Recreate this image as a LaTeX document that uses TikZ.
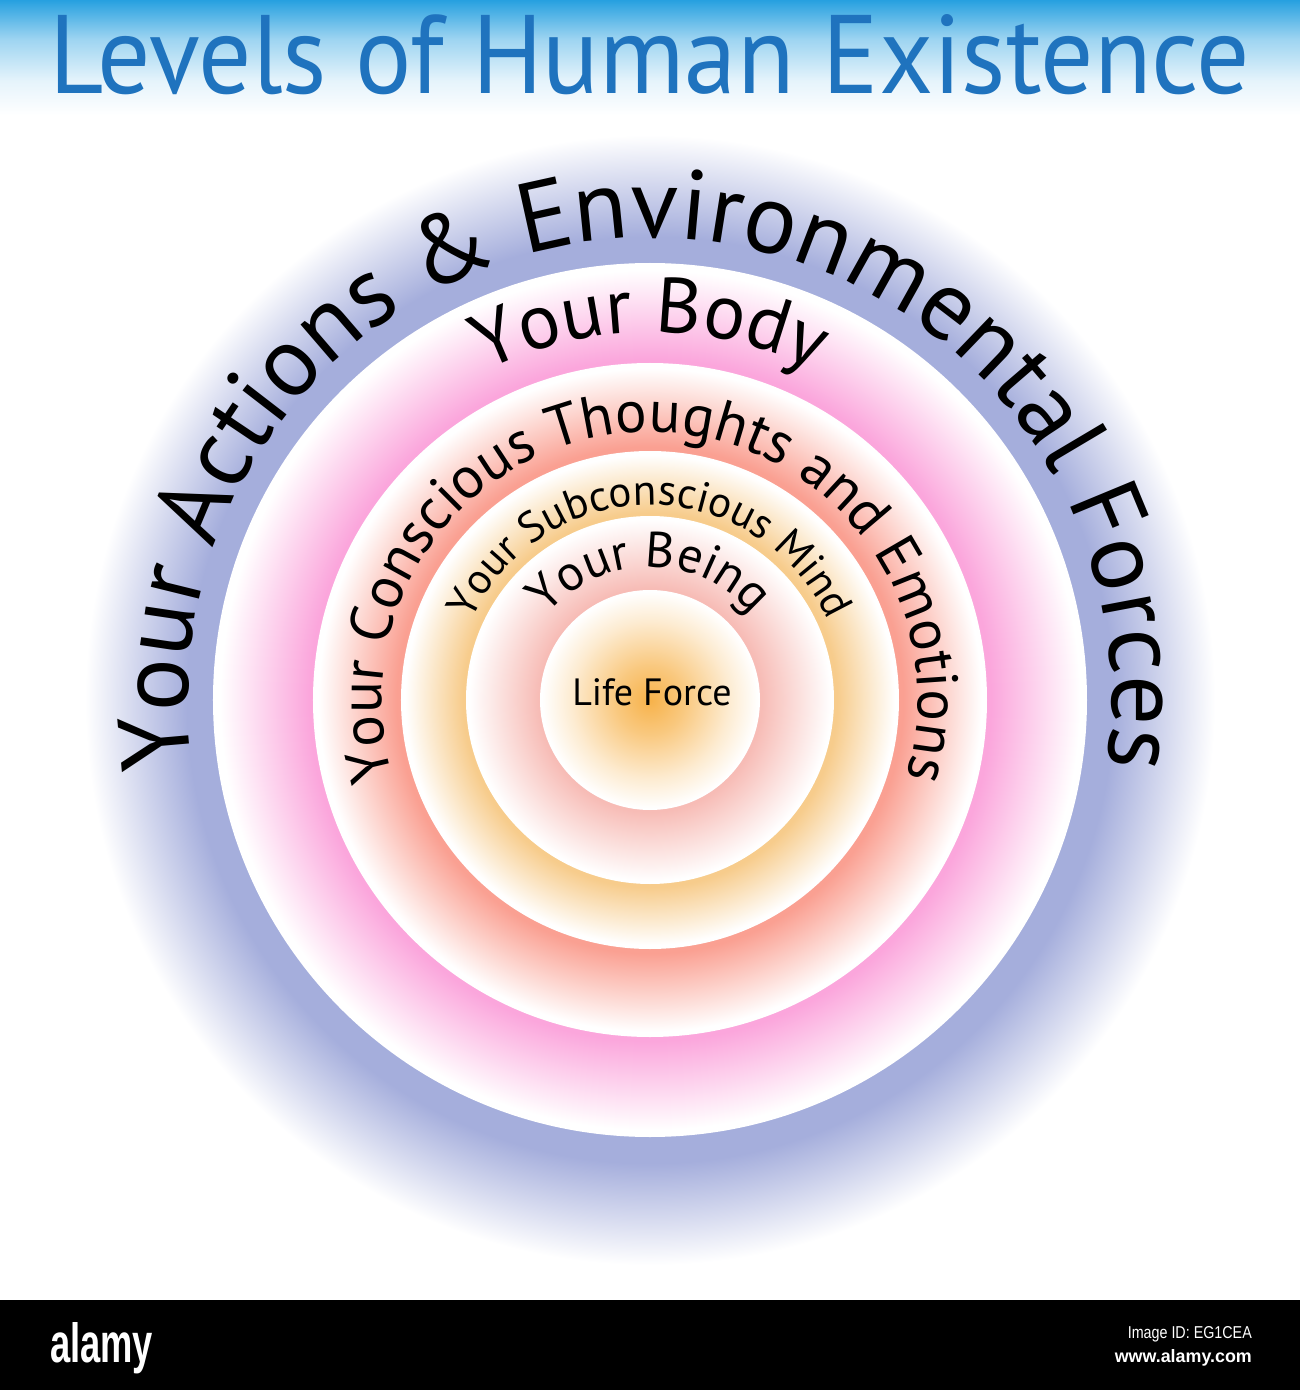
\documentclass[tikz,border=0pt]{standalone}
\usepackage{fontspec}
\usepackage{graphicx}
\usepackage{xcolor}
\usepackage{tikz}
\usetikzlibrary{decorations.text}
\setmainfont{PT Sans}
\newfontfamily\logofont{Liberation Sans}

\definecolor{titleblue}{RGB}{31,115,190}
\definecolor{barblue}{RGB}{38,160,224}
\definecolor{envblue}{RGB}{165,174,220}
\definecolor{bodypink}{RGB}{251,166,220}
\definecolor{mindsalmon}{RGB}{250,160,146}
\definecolor{subyellow}{RGB}{247,204,140}
\definecolor{beingpink}{RGB}{247,188,182}
\definecolor{lifeorange}{RGB}{247,178,74}

% radius of a filled circle = 25bp of the shading
\pgfdeclareradialshading{envshade}{\pgfpoint{0bp}{0bp}}{color(0bp)=(envblue); color(20.5bp)=(envblue); color(23bp)=(envblue!45!white); color(25bp)=(white); color(50bp)=(white)}
\pgfdeclareradialshading{bodyshade}{\pgfpoint{0bp}{0bp}}{color(0bp)=(bodypink); color(19.5bp)=(bodypink); color(24.6bp)=(white); color(50bp)=(white)}
\pgfdeclareradialshading{mindshade}{\pgfpoint{0bp}{0bp}}{color(0bp)=(mindsalmon); color(18.8bp)=(mindsalmon); color(24.6bp)=(white); color(50bp)=(white)}
\pgfdeclareradialshading{subshade}{\pgfpoint{0bp}{0bp}}{color(0bp)=(subyellow); color(18.8bp)=(subyellow); color(24.6bp)=(white); color(50bp)=(white)}
\pgfdeclareradialshading{beingshade}{\pgfpoint{0bp}{0bp}}{color(0bp)=(beingpink); color(15.2bp)=(beingpink); color(24.6bp)=(white); color(50bp)=(white)}
\pgfdeclareradialshading{lifeshade}{\pgfpoint{0bp}{0bp}}{color(0bp)=(lifeorange); color(8bp)=(lifeorange!70!white); color(18bp)=(lifeorange!25!white); color(24.6bp)=(white); color(50bp)=(white)}
\pgfdeclareverticalshading{titleshade}{100bp}{color(0bp)=(white); color(25bp)=(white); color(40bp)=(barblue!12!white); color(58bp)=(barblue!45!white); color(72bp)=(barblue!90!white); color(75bp)=(barblue); color(100bp)=(barblue)}

\begin{document}
\begin{tikzpicture}[x=1pt, y=1pt,
  ringtext/.style={decorate, decoration={text along path, text align=center, text={#1}}}]
  \useasboundingbox (-650,-690) rectangle (650,700);
  \fill[white] (-650,-690) rectangle (650,700);

  % title band
  \shade[shading=titleshade] (-650,585) rectangle (650,700);
  \node[anchor=base, inner sep=0, text=titleblue] (title) at (0,606) {\resizebox{1200pt}{79pt}{Levels of Human Existence}};

  % levels, outside to inside
  \shade[shading=envshade] (0,0) circle[radius=565];
  \shade[shading=bodyshade] (0,0) circle[radius=437];
  \shade[shading=mindshade] (0,0) circle[radius=337];
  \shade[shading=subshade] (0,0) circle[radius=249];
  \shade[shading=beingshade] (0,0) circle[radius=184];
  \shade[shading=lifeshade] (0,0) circle[radius=110];

  \path[ringtext={|\fontsize{99}{114}\selectfont|Your Actions {\&} Environmental Forces}] (250:462) arc[start angle=250, end angle=-70, radius=462];
  \path[ringtext={|\fontsize{78}{90}\selectfont|Your Body}] (250:368) arc[start angle=250, end angle=-70, radius=368];
  \path[ringtext={|\fontsize{59}{68}\selectfont|Your Conscious Thoughts and Emotions}] (250:268) arc[start angle=250, end angle=-70, radius=268];
  \path[ringtext={|\fontsize{43}{50}\selectfont|Your Subconscious Mind}] (250:195) arc[start angle=250, end angle=-70, radius=195];
  \path[ringtext={|\fontsize{50}{60}\selectfont|Your Being}] (250:133) arc[start angle=250, end angle=-70, radius=133];
  \node[anchor=base, inner sep=0, font=\fontsize{38}{44}\selectfont] (life) at (2,-5) {Life Force};

  % footer
  \fill[black] (-650,-690) rectangle (650,-600);
  \node[anchor=base west, inner sep=0, text=white] (logo) at (-600,-662) {\resizebox{103pt}{40pt}{\logofont\bfseries alamy}};
  \node[anchor=base east, inner sep=0, text=white] (imgid) at (602,-638) {\resizebox{124pt}{12pt}{\logofont Image ID: EG1CEA}};
  \node[anchor=base east, inner sep=0, text=white] (www) at (602,-662) {\resizebox{137pt}{13pt}{\logofont\bfseries www.alamy.com}};
\end{tikzpicture}
\end{document}
